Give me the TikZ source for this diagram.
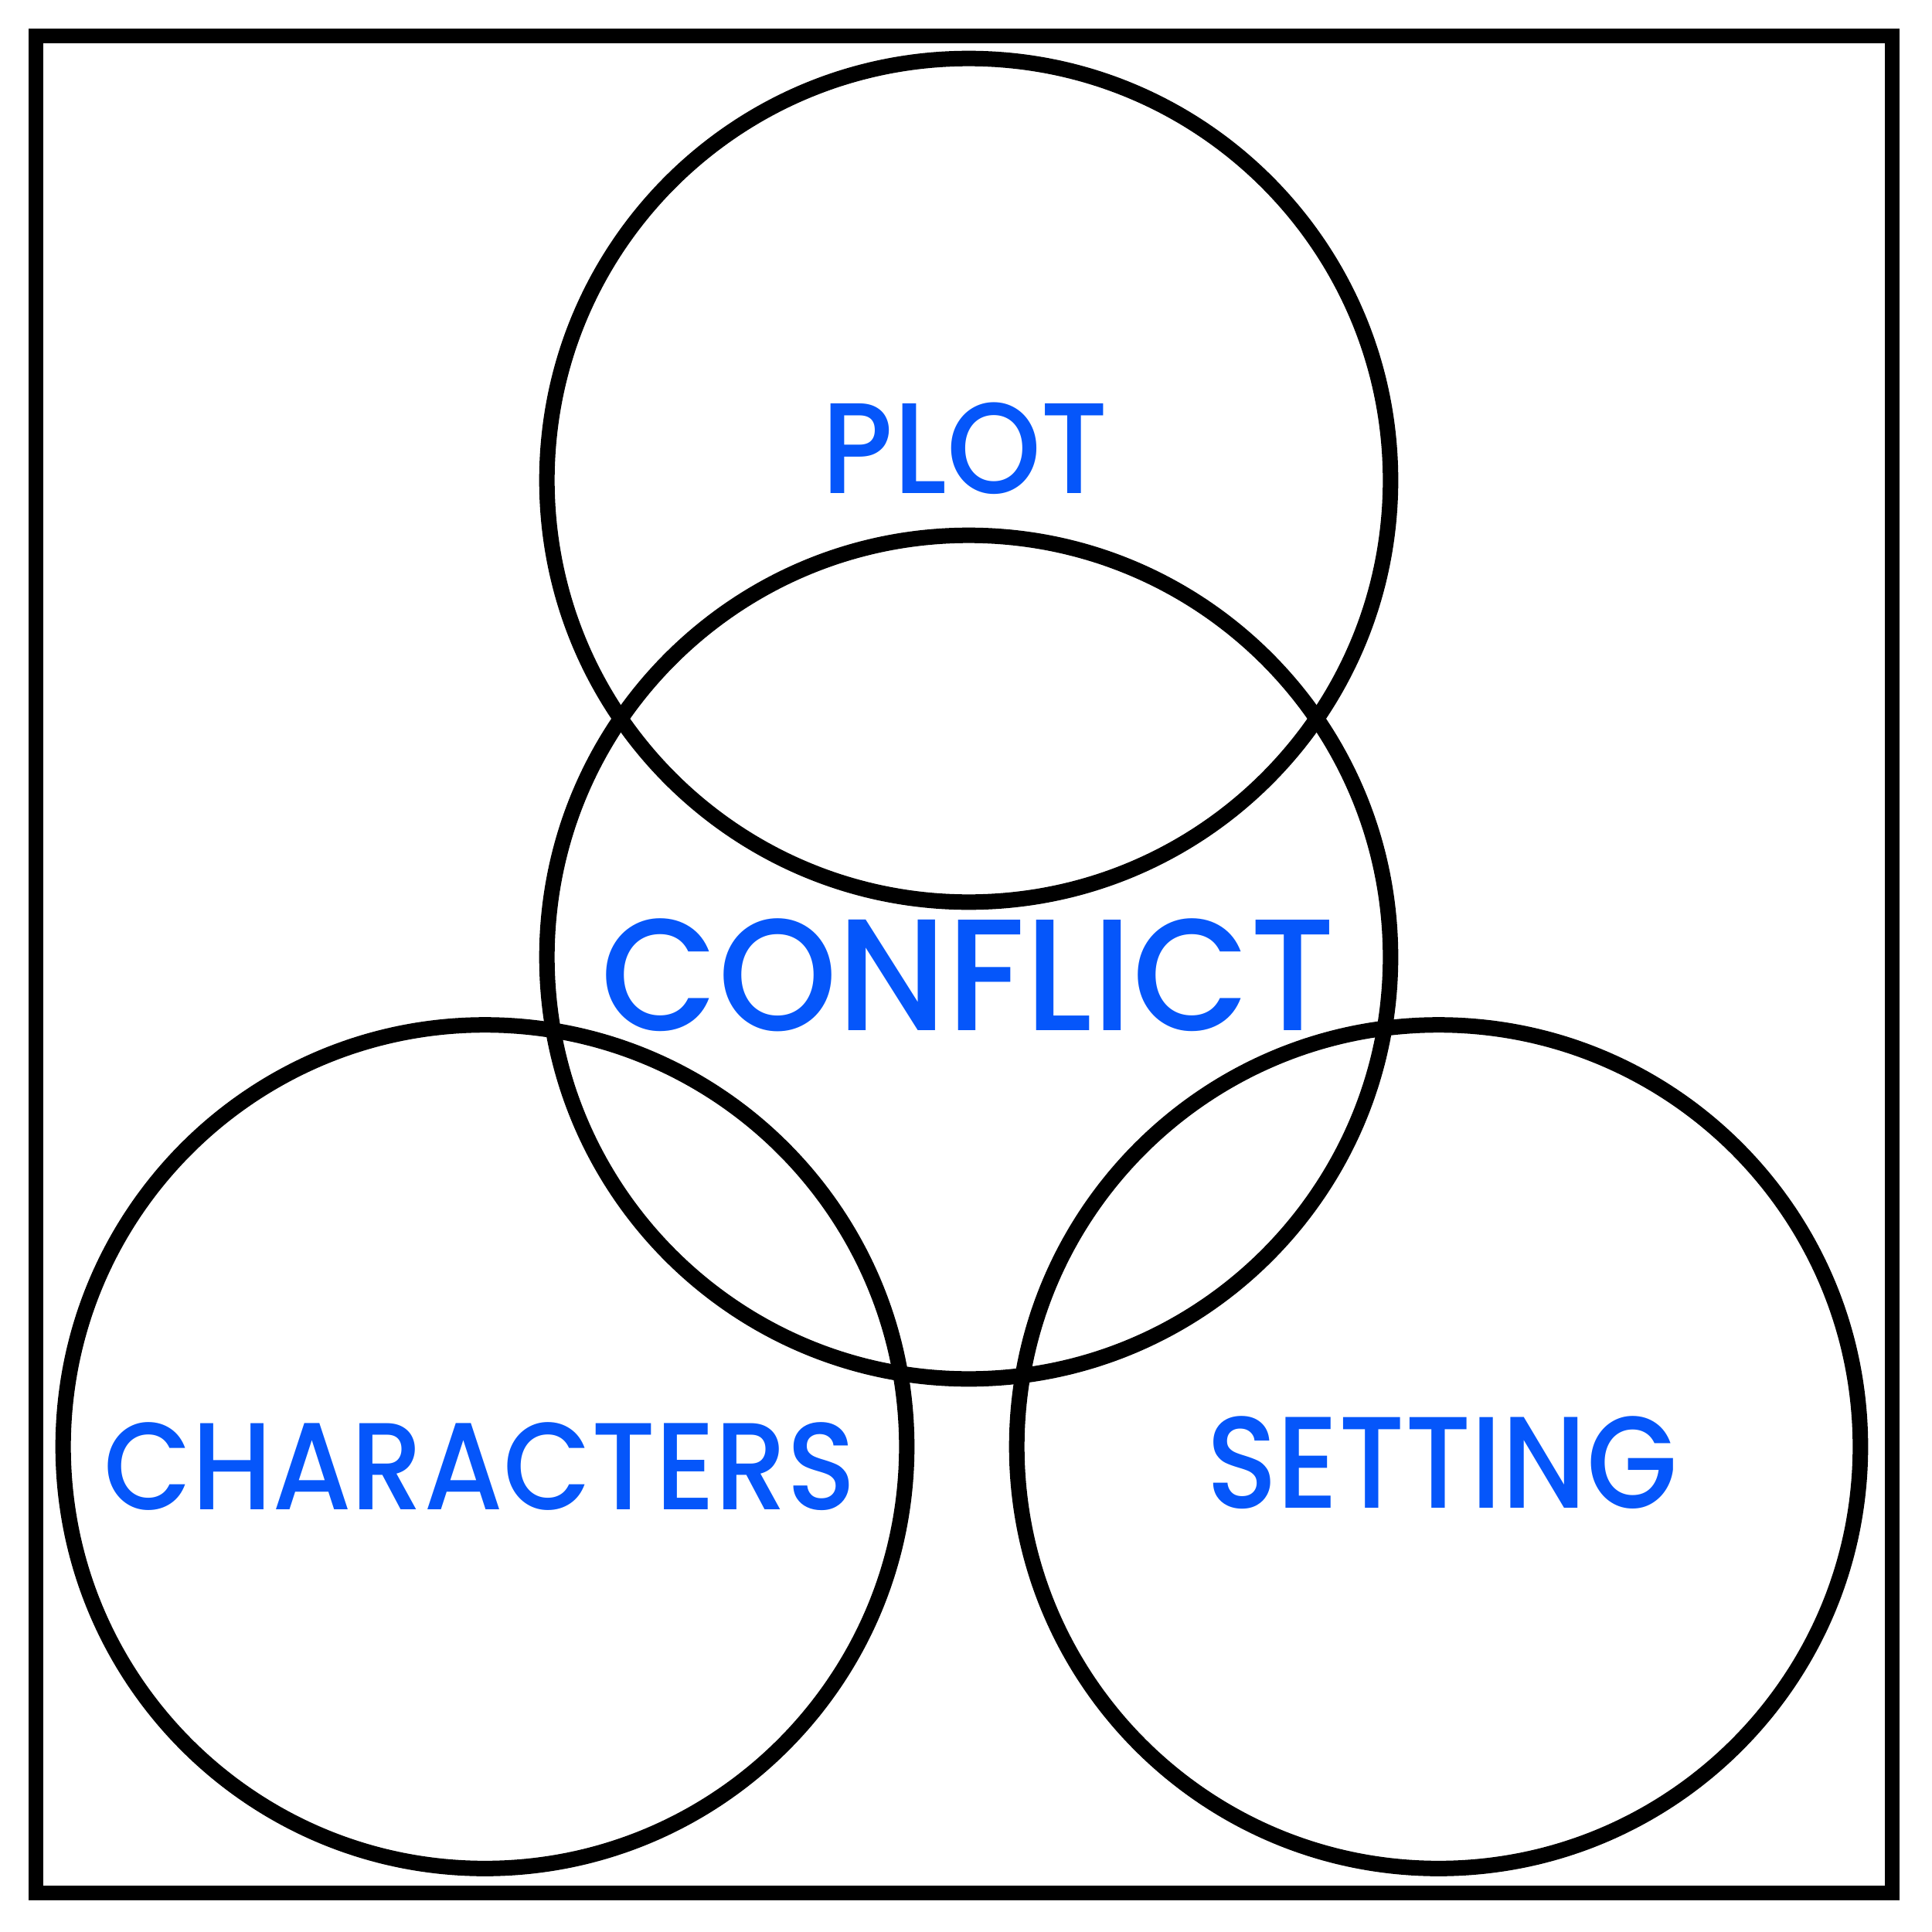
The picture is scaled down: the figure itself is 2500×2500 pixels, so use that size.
\documentclass[tikz,border=0pt]{standalone}
\usepackage{fontspec}
\usepackage{xcolor}
\usepackage{graphicx}
\usepackage{tikz}
\newfontfamily\labelfont{Poppins Medium}
\definecolor{labelblue}{HTML}{0556FA}

\begin{document}
\begin{tikzpicture}
      [x=0.01cm,y=-0.01cm,
       ring/.style={circle,draw=black,line width=0.2cm,minimum size=10.91cm,inner sep=0pt},
       word/.style={text=labelblue,inner sep=0pt}]
        \useasboundingbox (0,0) rectangle (2500,2500);
        \draw[line width=0.195cm] (46.5,46.5) rectangle (2448.5,2449.5);

        \node (P) at (1253.5,621.5) [ring] {};
        \node (C) at (1253.5,1238.5) [ring] {};
        \node (H) at (627.5,1872) [ring] {};
        \node (S) at (1861.5,1872) [ring] {};

        \node (Pt) at (1249,580.5) [word,font=\labelfont\fontsize{47.5}{50}\selectfont] {\scalebox{0.93}[1]{PLOT}};
        \node (Ct) at (1253,1261.5) [word,font=\labelfont\fontsize{58.5}{62}\selectfont] {\scalebox{0.955}[1]{CONFLICT}};
        \node (Ht) at (621,1898) [word,font=\labelfont\fontsize{45.6}{50}\selectfont] {\scalebox{0.92}[1]{CHARACTERS}};
        \node (St) at (1866,1892.5) [word,font=\labelfont\fontsize{48}{50}\selectfont] {\scalebox{0.9}[1]{SETTING}};
      \end{tikzpicture}
\end{document}
